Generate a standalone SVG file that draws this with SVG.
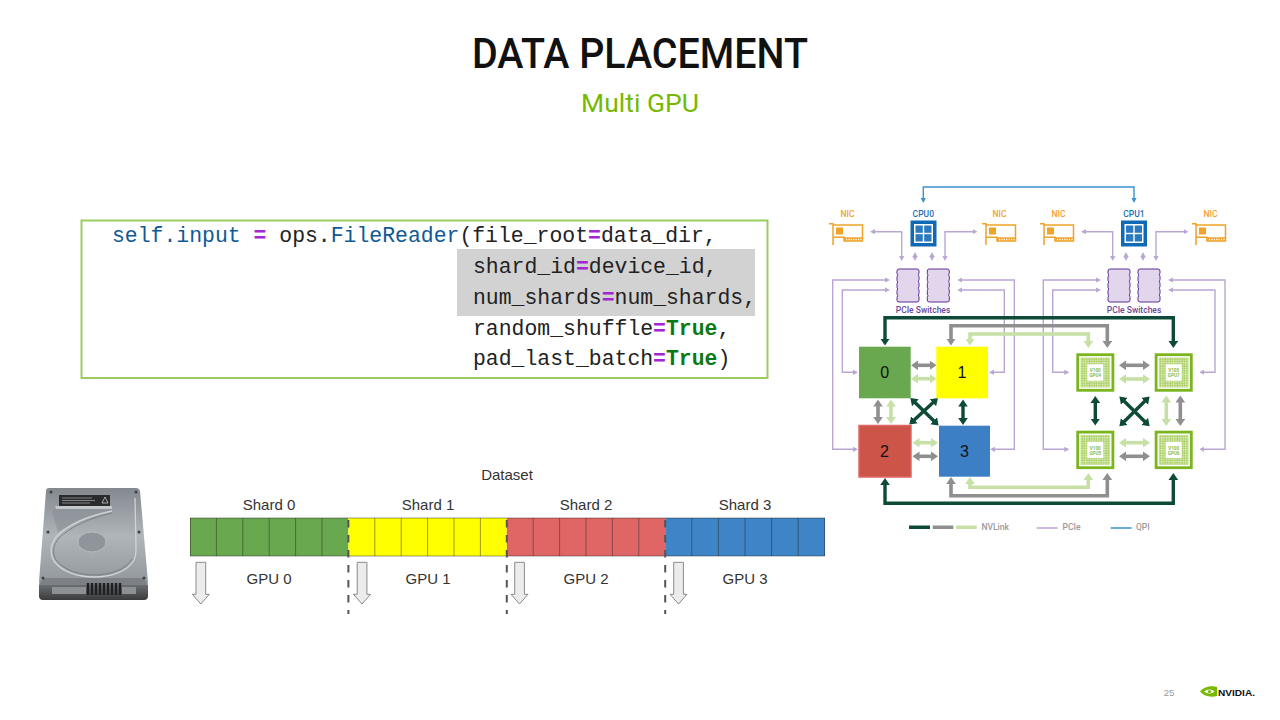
<svg xmlns="http://www.w3.org/2000/svg" width="1280" height="720" viewBox="0 0 1280 720">
<style>
text{font-family:"Liberation Sans",Arial,sans-serif}
.title{font-family:"Roboto","Liberation Sans",sans-serif;font-size:42px;font-weight:500;fill:#111;text-anchor:middle}
.sub{font-family:"Roboto","Liberation Sans",sans-serif;font-size:26.500px;fill:#76b900;text-anchor:middle}
.code{font-family:"Liberation Mono",monospace;font-size:21.450px;fill:#222;white-space:pre}
.kb{fill:#0f5a94}.eq{fill:#a426d2;font-weight:700}.tr{fill:#0b7a16;font-weight:700}
.lab{font-size:15px;fill:#333;text-anchor:middle}
.cell{stroke-width:1;stroke-opacity:.45;stroke:#222;fill:none}
.dash{stroke:#555;stroke-width:2;stroke-dasharray:7.500 7.500;fill:none}
.blk{fill:#ececec;stroke:#8a8a8a;stroke-width:1}
.small{font-family:"Roboto","Liberation Sans",sans-serif;font-size:8.500px;font-weight:500;text-anchor:middle}
.pc{fill:none;stroke:#baa6d5;stroke-width:1.400;marker-start:url(#mp);marker-end:url(#mp)}
.qp{fill:none;stroke:#3a93cf;stroke-width:1.400;marker-start:url(#mq);marker-end:url(#mq)}
.nd{fill:none;stroke:#0d4a37;stroke-width:3.400;marker-start:url(#md);marker-end:url(#md)}
.ng{fill:none;stroke:#8f8f8f;stroke-width:3.600;marker-start:url(#mg);marker-end:url(#mg)}
.nl{fill:none;stroke:#c6e0a6;stroke-width:3.600;marker-start:url(#ml);marker-end:url(#ml)}
.gnum{font-size:16px;fill:#111;text-anchor:middle;font-family:"Liberation Sans",sans-serif}
.chiptxt{font-family:"Roboto","Liberation Sans",sans-serif;font-size:4.600px;font-weight:700;fill:#8dbb45;text-anchor:middle}
.leg{font-family:"Roboto","Liberation Sans",sans-serif;font-size:8.500px;font-weight:500;fill:#9a9a9a}
</style>
<defs>
<marker id="mp" markerUnits="userSpaceOnUse" markerWidth="6" markerHeight="6" refX="3" refY="3" orient="auto-start-reverse"><path d="M0,0.400L5,3L0,5.600z" fill="#baa6d5"/></marker>
<marker id="mq" markerUnits="userSpaceOnUse" markerWidth="6" markerHeight="6" refX="3" refY="3" orient="auto-start-reverse"><path d="M0,0.400L5,3L0,5.600z" fill="#3a93cf"/></marker>
<marker id="md" markerUnits="userSpaceOnUse" markerWidth="9" markerHeight="10" refX="4" refY="5" orient="auto-start-reverse"><path d="M0,0.200L7,5L0,9.800z" fill="#0d4a37"/></marker>
<marker id="mg" markerUnits="userSpaceOnUse" markerWidth="9" markerHeight="10" refX="4" refY="5" orient="auto-start-reverse"><path d="M0,0.200L7,5L0,9.800z" fill="#8f8f8f"/></marker>
<marker id="ml" markerUnits="userSpaceOnUse" markerWidth="9" markerHeight="10" refX="4" refY="5" orient="auto-start-reverse"><path d="M0,0.200L7,5L0,9.800z" fill="#c6e0a6"/></marker>
<linearGradient id="hddTop" x1="0" y1="0" x2="0" y2="1"><stop offset="0" stop-color="#83898f"/><stop offset=".5" stop-color="#b0b5ba"/><stop offset="1" stop-color="#90969b"/></linearGradient>
<linearGradient id="hddBase" x1="0" y1="0" x2="0" y2="1"><stop offset="0" stop-color="#6a6d70"/><stop offset="1" stop-color="#3a3b3d"/></linearGradient>
<pattern id="pads" width="2.400" height="2.400" patternUnits="userSpaceOnUse"><rect width="2.400" height="2.400" fill="#eef6dc"/><rect x=".2" y=".2" width="1.800" height="1.800" fill="#9cc84a"/></pattern>
<g id="nic">
<path d="M0,0.800H4V22M4,2H33.500V18H15V14.300H4" fill="#fff" stroke="#f0a229" stroke-width="1.500"/>
<rect x="7" y="4.500" width="7" height="7" fill="#f0a229"/>
<rect x="15" y="14.300" width="18.500" height="3.700" fill="#f0a229"/>
<path d="M17,16.500H33" stroke="#fff" stroke-width="1.300" stroke-dasharray="1.200 1.200"/>
</g>
<g id="cpu">
<rect width="26" height="26" fill="#0f69b4"/>
<rect x="3.500" y="3.500" width="19" height="19" fill="#fff"/>
<rect x="5" y="5" width="7.300" height="7.300" fill="#2a7ac0"/><rect x="13.700" y="5" width="7.300" height="7.300" fill="#2a7ac0"/>
<rect x="5" y="13.700" width="7.300" height="7.300" fill="#2a7ac0"/><rect x="13.700" y="13.700" width="7.300" height="7.300" fill="#2a7ac0"/>
</g>
<path id="sw" d="M2,0H20Q22,0 22,2V4q-1.400,1.700 0,3.400v3.400q-1.400,1.700 0,3.400v3.400q-1.400,1.700 0,3.400v3.400q-1.400,1.700 0,3.400V31Q22,33 20,33H2Q0,33 0,31V28.400q1.400,-1.700 0,-3.400v-3.400q1.400,-1.700 0,-3.400v-3.400q1.400,-1.700 0,-3.400v-3.400q1.400,-1.700 0,-3.400V2Q0,0 2,0z" fill="#e2d6ec" stroke="#5c2f92" stroke-width="1"/>
<g id="chip">
<rect width="38" height="38.400" fill="#7ab51d"/>
<rect x="2.800" y="2.800" width="32.400" height="32.800" fill="#fff"/>
<rect x="4.200" y="4.200" width="29.600" height="30" fill="url(#pads)"/>
<rect x="11" y="11" width="16" height="16.400" fill="#fff"/>
</g>
</defs>
<rect width="1280" height="720" fill="#fff"/>

<g id="heading">
<text class="title" x="640" y="68" textLength="336" lengthAdjust="spacingAndGlyphs">DATA PLACEMENT</text>
<text class="sub" x="640" y="112">Multi GPU</text>
</g>

<g id="code-box">
<rect x="457" y="249" width="298" height="67" fill="#d2d2d2"/>
<rect x="81.500" y="220.500" width="686" height="157.500" fill="none" stroke="#9ccb5e" stroke-width="2"/>
<text class="code" x="112" y="242"><tspan class="kb">self.input</tspan> <tspan class="eq">=</tspan> ops.<tspan class="kb">FileReader</tspan>(file_root<tspan class="eq">=</tspan>data_dir,</text>
<text class="code" x="473" y="273">shard_id<tspan class="eq">=</tspan>device_id,</text>
<text class="code" x="473" y="304">num_shards<tspan class="eq">=</tspan>num_shards,</text>
<text class="code" x="473" y="335">random_shuffle<tspan class="eq">=</tspan><tspan class="tr">True</tspan>,</text>
<text class="code" x="473" y="365">pad_last_batch<tspan class="eq">=</tspan><tspan class="tr">True</tspan>)</text>
</g>

<g id="hard-drive">
<path d="M39,585H148L148,596Q148,600 144,600H43Q39,600 39,596z" fill="url(#hddBase)"/>
<path d="M52,587H86V594H52z" fill="#8d9195"/><path d="M122,587H136V594H122z" fill="#8d9195"/>
<path d="M49,488H136Q139,488 140,491L148,582Q148,585 145,585H42Q39,585 39,582L46,491Q46,488 49,488z" fill="url(#hddTop)"/>
<path d="M43,578L39,585H148L143,578z" fill="#7d8185"/>
<path d="M55,508H112V512C92,516 72,524 58,532L52,512z" fill="#8a9096" opacity=".6"/>
<path d="M112,511C88,516 68,525 57,536C51,543 49,553 54,561C62,572 78,577 94,577C112,577 128,571 134,560C136,556 136,552 136,548L135,498" fill="none" stroke="#d0d4d7" stroke-width="1.300"/>
<path d="M112,513C90,518 70,527 59,538C53,545 52,553 56,560C64,570 79,575 94,575C111,575 126,569 132,559" fill="none" stroke="#72777c" stroke-width=".8"/>
<ellipse cx="92" cy="542" rx="14" ry="10" fill="#8f959a" stroke="#bcc0c3" stroke-width=".8"/>
<path d="M55,506H112V509H56z" fill="#c4c8cb"/>
<rect x="59" y="495" width="51" height="11" fill="#2a2b2d"/>
<path d="M62,498H92M62,500.500H95M62,503H90" stroke="#aaa" stroke-width=".7"/>
<path d="M102,503L105,497L108,503z" fill="none" stroke="#ddd" stroke-width=".7"/>
<path d="M88,583V595M92,583V595M96,583V595M100,583V595M104,583V595M108,583V595M112,583V595M116,583V595M120,583V595" stroke="#1f2022" stroke-width="2.500"/>
<g fill="#3b4044"><circle cx="51" cy="492" r="1.500"/><circle cx="136" cy="492" r="1.500"/><circle cx="48" cy="532" r="1.500"/><circle cx="139" cy="532" r="1.500"/><circle cx="43" cy="578" r="1.500"/><circle cx="144" cy="578" r="1.500"/></g>
</g>

<g id="dataset">
<text class="lab" x="507" y="480">Dataset</text>
<g id="shard-0">
<rect x="190" y="518" width="158.400" height="38" fill="#6aa84f"/>
<path class="cell" d="M216.400,518V556M242.800,518V556M269.200,518V556M295.600,518V556M322,518V556M190,518H348.400M190,556H348.400M190.500,518V556"/>
<text class="lab" x="269" y="510">Shard 0</text>
<text class="lab" x="269" y="584">GPU 0</text>
<path class="blk" d="M196,562.300H205.700V594.300H209.300L200.800,604L192.300,594.300H196z"/>
</g>
<g id="shard-1">
<rect x="348.400" y="518" width="158.400" height="38" fill="#ffff00"/>
<path class="cell" d="M374.800,518V556M401.200,518V556M427.600,518V556M454,518V556M480.400,518V556M348.400,518H506.800M348.400,556H506.800"/>
<text class="lab" x="428" y="510">Shard 1</text>
<text class="lab" x="428" y="584">GPU 1</text>
<path class="blk" d="M357.200,562.300H366.900V594.300H370.500L362,604L353.500,594.300H357.200z"/>
</g>
<g id="shard-2">
<rect x="506.800" y="518" width="158.400" height="38" fill="#e06666"/>
<path class="cell" d="M533.200,518V556M559.600,518V556M586,518V556M612.400,518V556M638.800,518V556M506.800,518H665.200M506.800,556H665.200"/>
<text class="lab" x="586" y="510">Shard 2</text>
<text class="lab" x="586" y="584">GPU 2</text>
<path class="blk" d="M514.700,562.300H524.400V594.300H528L519.500,604L511,594.300H514.700z"/>
</g>
<g id="shard-3">
<rect x="665.200" y="518" width="159.800" height="38" fill="#3d85c6"/>
<path class="cell" d="M691.800,518V556M718.400,518V556M745,518V556M771.600,518V556M798.200,518V556M665.200,518H825M665.200,556H825M824.500,518V556"/>
<text class="lab" x="745" y="510">Shard 3</text>
<text class="lab" x="745" y="584">GPU 3</text>
<path class="blk" d="M673.700,562.300H683.400V594.300H687L678.500,604L670,594.300H673.700z"/>
</g>
<path class="dash" d="M348.400,520V614M506.800,520V614M665.200,520V614"/>
</g>

<g id="connectors">
<path class="qp" d="M923.300,201V187H1134V201"/>
<path class="pc" d="M872,231.700H901.700V259"/>
<path class="pc" d="M915,254V259"/>
<path class="pc" d="M932,254V259"/>
<path class="pc" d="M945,259V231.700H975.500"/>
<path class="pc" d="M888,280H832.700V449.300H856"/>
<path class="pc" d="M888,290H842.300V372.300H856"/>
<path class="pc" d="M959.300,280H1014.300V449.300H992"/>
<path class="pc" d="M959.300,290H1004.300V372.300H991"/>
<path class="pc" d="M1083,231.700H1112.700V259"/>
<path class="pc" d="M1126,254V259"/>
<path class="pc" d="M1143,254V259"/>
<path class="pc" d="M1156,259V231.700H1186.500"/>
<path class="pc" d="M1099,280H1043.300V449.300H1067.300"/>
<path class="pc" d="M1099,290H1052.700V372.300H1067.300"/>
<path class="pc" d="M1170,280H1225V449.300H1201.300"/>
<path class="pc" d="M1170,290H1215V372.300H1201.300"/>

<path class="nl" d="M970,342.500V334H1088.300V345"/>
<path class="ng" d="M951,342.500V325.700H1107.300V345"/>
<path class="nd" d="M885,342.500V317.700H1173.300V345"/>
<path class="nl" d="M970,480V487.300H1088.300V476"/>
<path class="ng" d="M951,480V495.700H1107.300V476"/>
<path class="nd" d="M885,481V503.300H1173.300V476"/>

<path class="ng" d="M914,365.300H933.500"/>
<path class="nl" d="M914,378.700H933.500"/>
<path class="ng" d="M878,402.500V421"/>
<path class="nl" d="M891,402.500V421"/>
<path class="nd" d="M963,402.500V422"/>
<path class="nd" d="M912.500,400L936.500,423.500"/>
<path class="nd" d="M935.800,400L911.500,422.500"/>
<path class="nl" d="M915.500,442.700H935"/>
<path class="ng" d="M915.500,456.300H935"/>

<path class="ng" d="M1122,365.300H1147"/>
<path class="nl" d="M1122,379H1147"/>
<path class="nd" d="M1095.300,399V422.500"/>
<path class="nl" d="M1166.300,398.500V423"/>
<path class="ng" d="M1180.300,398.500V423"/>
<path class="nd" d="M1121.500,398.500L1147.500,424.200"/>
<path class="nd" d="M1147.500,398.500L1121.500,424.200"/>
<path class="nl" d="M1122,442.700H1147"/>
<path class="ng" d="M1122,456.300H1147"/>
</g>

<g id="cpu0"><text class="small" x="923.300" y="217" fill="#1a6fb5">CPU0</text><use href="#cpu" x="910.500" y="220.500"/></g>
<g id="cpu1"><text class="small" x="1134" y="217" fill="#1a6fb5">CPU1</text><use href="#cpu" x="1121" y="220.500"/></g>
<g id="nic0"><text class="small" x="847.500" y="217" fill="#f0a229">NIC</text><use href="#nic" x="829" y="223"/></g>
<g id="nic1"><text class="small" x="999.500" y="217" fill="#f0a229">NIC</text><use href="#nic" x="982" y="223"/></g>
<g id="nic2"><text class="small" x="1058.500" y="217" fill="#f0a229">NIC</text><use href="#nic" x="1040" y="223"/></g>
<g id="nic3"><text class="small" x="1210.500" y="217" fill="#f0a229">NIC</text><use href="#nic" x="1192" y="223"/></g>
<g id="pcie-switches-0"><use href="#sw" x="897" y="269"/><use href="#sw" x="927.300" y="269"/><text class="small" x="923" y="312.500" fill="#6a479b">PCIe Switches</text></g>
<g id="pcie-switches-1"><use href="#sw" x="1108" y="269"/><use href="#sw" x="1138" y="269"/><text class="small" x="1134" y="312.500" fill="#6a479b">PCIe Switches</text></g>

<g id="gpu-0"><rect x="859" y="346.700" width="51.700" height="51.600" fill="#6aa84f"/><text class="gnum" x="884.700" y="378">0</text></g>
<g id="gpu-1"><rect x="936.300" y="346.700" width="51.700" height="51.600" fill="#ffff00"/><text class="gnum" x="962" y="378">1</text></g>
<g id="gpu-2"><rect x="859" y="425.500" width="52" height="51.500" fill="#cc5449" stroke="#e06666" stroke-width="1.500"/><text class="gnum" x="884.500" y="457">2</text></g>
<g id="gpu-3"><rect x="939" y="425.700" width="51" height="51" fill="#3d7fc4"/><text class="gnum" x="964.500" y="457">3</text></g>

<g id="v100-gpu4"><use href="#chip" x="1076.300" y="353.300"/><text class="chiptxt" x="1095.300" y="372">V100</text><text class="chiptxt" x="1095.300" y="377">GPU4</text></g>
<g id="v100-gpu7"><use href="#chip" x="1154.700" y="353.300"/><text class="chiptxt" x="1173.700" y="372">V100</text><text class="chiptxt" x="1173.700" y="377">GPU7</text></g>
<g id="v100-gpu5"><use href="#chip" x="1076.300" y="430.700"/><text class="chiptxt" x="1095.300" y="449.500">V100</text><text class="chiptxt" x="1095.300" y="454.500">GPU5</text></g>
<g id="v100-gpu6"><use href="#chip" x="1154.700" y="430.700"/><text class="chiptxt" x="1173.700" y="449.500">V100</text><text class="chiptxt" x="1173.700" y="454.500">GPU6</text></g>

<g id="legend">
<rect x="909" y="525.500" width="21" height="3.500" fill="#0d4a37"/>
<rect x="932.700" y="525.500" width="20.600" height="3.500" fill="#8f8f8f"/>
<rect x="956" y="525.500" width="20.700" height="3.500" fill="#c6e0a6"/>
<text class="leg" x="981.500" y="530">NVLink</text>
<path d="M1036.700,528H1057.700" stroke="#baa6d5" stroke-width="1.500"/>
<text class="leg" x="1062.500" y="530">PCIe</text>
<path d="M1110.700,528H1131.700" stroke="#3a93cf" stroke-width="1.500"/>
<text class="leg" x="1136" y="530">QPI</text>
</g>

<g id="footer">
<text x="1169" y="696" font-size="9.500" fill="#9a9a9a" text-anchor="middle">25</text>
<path d="M1200,691.500C1204,686.500 1212,685.500 1217,687V696C1211,697.500 1204,696.500 1200,691.500z" fill="#76b900"/>
<path d="M1204,691.500C1207,688.800 1212,688.800 1214.500,691.500C1212,694 1207,694 1204,691.500z" fill="#fff"/>
<circle cx="1209.500" cy="691.500" r="1.600" fill="#76b900"/>
<text x="1218" y="695.500" font-size="9" font-weight="700" fill="#111" textLength="37" lengthAdjust="spacingAndGlyphs">NVIDIA.</text>
</g>
</svg>
